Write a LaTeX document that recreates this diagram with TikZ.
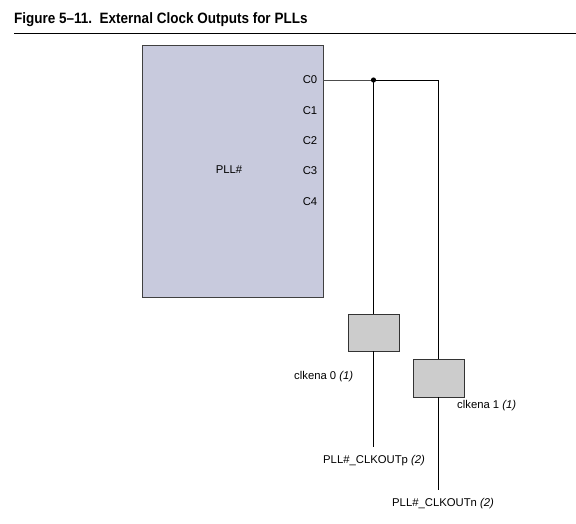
\documentclass[tikz,border=0pt]{standalone}
\usepackage{fontspec}
\setmainfont{Liberation Sans}
\newfontfamily\titlefont[FakeStretch=0.9]{Liberation Sans}
\usepackage{tikz}
\usetikzlibrary{positioning, calc}

\definecolor{pllfill}{RGB}{200,202,221}
\definecolor{enfill}{RGB}{204,204,204}

\tikzset{
  pllbox/.style={draw=black!75, line width=0.9pt, fill=pllfill, minimum width=181pt, minimum height=252pt, inner sep=0pt},
  enbox/.style={draw=black!80, line width=0.9pt, fill=enfill, minimum width=51pt, minimum height=37pt, inner sep=0pt},
  wire/.style={line width=0.8pt},
  lbl/.style={font=\fontsize{11.3}{13}\selectfont, inner sep=0pt}
}

\begin{document}
\begin{tikzpicture}[x=1pt, y=-1pt]
\useasboundingbox (0,0) rectangle (576,523);

% ---- Title and rule ----
\node[anchor=base west, inner sep=0pt, font=\titlefont\bfseries\fontsize{15}{17}\selectfont] (title) at (14,23.5)
{Figure 5\textendash 11.\ \ External Clock Outputs for PLLs};
\draw[line width=0.9pt] (14,33.3) -- (576,33.3);

% PLL block
\node[pllbox] (pll) at (232.5,171) {};
\node[lbl] (pllname) at (229,170) {PLL\#};

% Clock output ports
\foreach \i/\y in {0/80,1/111,2/141,3/171,4/202}
  \node[lbl] (c\i) at (310,\y) {C\i};

% Clock enable blocks
\node[enbox] (en0) at (373.5,332.5) {};
\node[enbox, minimum height=38pt] (en1) at (438.5,378) {};

% ---- Wiring ----
\coordinate (split) at (373.5,80);
\coordinate (corner) at (438.5,80);
\coordinate (outp) at (373.5,447);
\coordinate (outn) at (438.5,490);

\draw[wire, black!70] (pll.east |- split) -- (split);
\draw[wire] (split) -- (corner) -- (en1.north);
\draw[wire] (split) -- (en0.north);
\draw[wire] (en0.south) -- (outp);
\draw[wire] (en1.south) -- (outn);
\fill (split) circle (2.6pt);

% ---- Labels ----
\node[lbl, anchor=west] (en0lbl) at (294,377) {clkena 0 \textit{(1)}};
\node[lbl, anchor=west] (en1lbl) at (457,406) {clkena 1 \textit{(1)}};
\node[lbl, anchor=west] (outplbl) at (323,461) {PLL\#\_CLKOUTp \textit{(2)}};
\node[lbl, anchor=west] (outnlbl) at (392,504) {PLL\#\_CLKOUTn \textit{(2)}};

\end{tikzpicture}
\end{document}
